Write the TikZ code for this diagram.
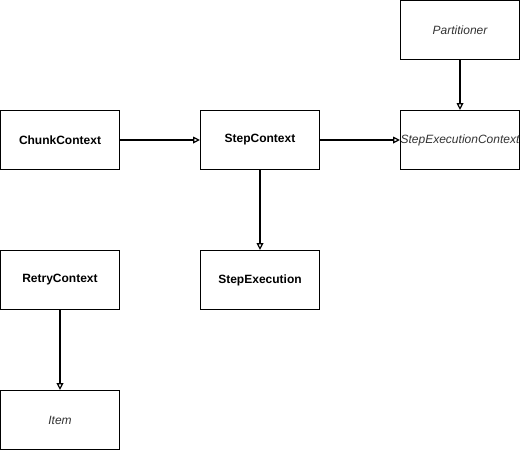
\documentclass[tikz,border=0pt]{standalone}
\usepackage{fontspec}
\setmainfont{Liberation Sans}
\usetikzlibrary{arrows.meta}
\begin{document}
\begin{tikzpicture}[x=0.75pt,y=-0.75pt,
  box/.style={draw=black,line width=0.9pt,fill=white,minimum width=89.25pt,minimum height=44.25pt,inner sep=0pt,font=\fontsize{9}{11}\selectfont},
  bbox/.style={box,font=\fontsize{9}{11}\selectfont\bfseries},
  ibox/.style={box,font=\fontsize{9}{11}\selectfont\itshape,text=black!80},
  conn/.style={draw=black,line width=0.9pt,-{Triangle[open,length=5pt,width=5pt]}}]
\useasboundingbox (0,0) rectangle (521,451);
\node[bbox] (chunk) at (60,140) {ChunkContext};
\node[bbox] (step) at (260,140) {StepContext};
\node[ibox] (sec) at (460,140) {StepExecutionContext};
\node[ibox] (part) at (460,30) {Partitioner};
\node[bbox] (se) at (260,280) {StepExecution};
\node[bbox] (retry) at (60,280) {RetryContext};
\node[ibox] (item) at (60,420) {Item};
\draw[conn] (chunk) -- (step);
\draw[conn] (step) -- (sec);
\draw[conn] (step) -- (se);
\draw[conn] (part) -- (sec);
\draw[conn] (retry) -- (item);
\end{tikzpicture}
\end{document}
